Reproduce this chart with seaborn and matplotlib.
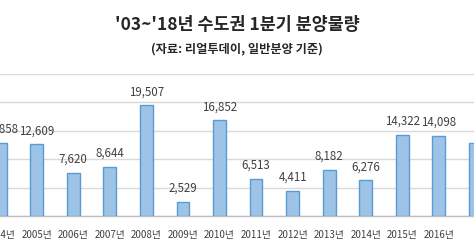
import matplotlib
matplotlib.use("Agg")
import matplotlib.pyplot as plt
import seaborn as sns
import pandas as pd

years = ["2004년", "2005년", "2006년", "2007년", "2008년", "2009년", "2010년",
         "2011년", "2012년", "2013년", "2014년", "2015년", "2016년", "2017년"]
values = [12858, 12609, 7620, 8644, 19507, 2529, 16852,
          6513, 4411, 8182, 6276, 14322, 14098, 12873]
title = "'03~'18년 수도권 1분기 분양물량"
subtitle = "(자료: 리얼투데이, 일반분양 기준)"

df = pd.DataFrame({"year": years, "value": values})

sns.set_theme(style="white")
plt.rcParams["font.family"] = ["Noto Sans CJK KR", "DejaVu Sans"]

fig = plt.figure(figsize=(4.74, 2.48), dpi=100)
ax = fig.add_axes([0.0, 32 / 248, 1.0, 142 / 248])

sns.barplot(data=df, x="year", y="value", order=years, color="#9dc3e6",
            edgecolor="#5b9bd5", linewidth=1.0, width=0.35, saturation=1,
            ax=ax, zorder=3)

ax.set_ylim(0, 25000)
ax.set_xlim(-0.003, 12.96)
ax.set_yticks([0, 5000, 10000, 15000, 20000, 25000])
ax.yaxis.grid(True, color="#d9d9d9", linewidth=1.0, zorder=0)
ax.set_axisbelow(True)
for s in ["top", "right", "left"]:
    ax.spines[s].set_visible(False)
ax.spines["bottom"].set_color("#bfbfbf")
ax.spines["bottom"].set_linewidth(1.0)
ax.set_xlabel("")
ax.set_ylabel("")
ax.tick_params(axis="y", left=False, labelleft=False)
ax.tick_params(axis="x", bottom=False, labelsize=7, labelcolor="#404040", pad=4)

labels = [f"{v:,}" for v in values]
ax.bar_label(ax.containers[0], labels=labels, padding=5, fontsize=8.3,
             color="#404040")

fig.text(0.5, 1 - 25 / 248, title, ha="center", va="center",
         fontsize=12.5, fontweight="bold", color="#262626")
fig.text(0.5, 1 - 49 / 248, subtitle, ha="center", va="center",
         fontsize=8.8, fontweight="bold", color="#262626")

fig.savefig("out.png", dpi=100)
